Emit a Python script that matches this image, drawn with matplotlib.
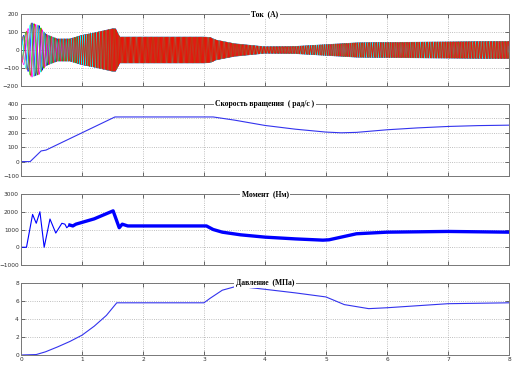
import matplotlib
matplotlib.use("Agg")
import matplotlib.pyplot as plt
import numpy as np

# current envelope (A) and carrier frequency (Hz)
cur_env_t = [0, 0.1, 0.17, 0.3, 0.4, 0.5, 0.6, 0.8, 1.0, 1.2, 1.5, 1.55, 1.62, 2.0, 3.0, 3.1, 3.2, 3.5, 4.0, 4.5, 5.0, 5.5, 6.0, 7.0, 8.0]
cur_env_a = [60, 110, 152, 135, 90, 75, 62, 62, 82, 95, 118, 118, 72, 72, 72, 70, 55, 35, 18, 20, 30, 40, 42, 45, 48]
cur_freq_t = [0, 0.3, 0.6, 1.0, 1.55, 3.1, 5.0, 8.0]
cur_freq_f = [6, 9, 18, 30, 50, 50, 33, 40]

# rotor speed (rad/s)
speed_t = [0, 0.15, 0.33, 0.41, 1.54, 3.15, 3.5, 4.0, 4.5, 5.0, 5.25, 5.5, 6.0, 6.5, 7.0, 7.5, 8.0]
speed_v = [0, 0, 74, 80, 310, 310, 288, 251, 225, 205, 200, 203, 221, 234, 244, 250, 253]

# torque (Nm)
torque_t = [0, 0.09, 0.19, 0.25, 0.31, 0.38, 0.475, 0.57, 0.67, 0.72, 0.75, 0.8, 0.85, 0.9, 1.2, 1.51, 1.61, 1.66, 1.75, 2.5, 3.04, 3.15, 3.3, 3.6, 4.0, 4.5, 4.95, 5.05, 5.5, 6.0, 7.0, 8.0]
torque_v = [0, 0, 1850, 1350, 2000, 0, 1590, 800, 1350, 1300, 1100, 1250, 1200, 1300, 1600, 2050, 1100, 1300, 1200, 1200, 1200, 1000, 850, 700, 570, 470, 400, 420, 760, 850, 890, 850]

# pressure (MPa)
press_t = [0, 0.25, 0.4, 0.6, 0.8, 1.0, 1.2, 1.4, 1.57, 3.0, 3.1, 3.3, 3.54, 4.0, 4.5, 5.0, 5.3, 5.7, 6.0, 7.0, 8.0]
press_v = [0, 0.05, 0.35, 0.9, 1.5, 2.2, 3.2, 4.4, 5.8, 5.8, 6.3, 7.2, 7.65, 7.3, 6.9, 6.45, 5.6, 5.15, 5.25, 5.7, 5.8]

titles = ["Ток  (А)", "Скорость вращения  ( рад/с )", "Момент  (Нм)", "Давление  (МПа)"]
ylims = [(-200, 200), (-100, 400), (-1000, 3000), (0, 8)]
yticks = [[-200, -100, 0, 100, 200], range(-100, 401, 100), range(-1000, 3001, 1000), [0, 2, 4, 6, 8]]

fig = plt.figure(figsize=(5.27, 3.75), dpi=100)
W, H = 527.0, 375.0
boxes = [(14, 86), (104, 176), (194, 265), (283, 355)]
axes = []
for top, bot in boxes:
    ax = fig.add_axes([21 / W, 1 - bot / H, 488 / W, (bot - top) / H])
    axes.append(ax)

# three-phase currents built on the traced envelope
t = np.linspace(0, 8, 40000)
env = np.interp(t, cur_env_t, cur_env_a)
freq = np.interp(t, cur_freq_t, cur_freq_f)
phase = 2 * np.pi * np.cumsum(freq) * (t[1] - t[0])
ax = axes[0]
for k, c in enumerate(["blue", "#00dd00", "magenta", "cyan"]):
    ax.plot(t, env * np.sin(phase - k * np.pi / 2), color=c, lw=0.5)
ax.plot(t, env * np.sin(1.03 * phase + np.pi / 6), color="#86681c", lw=0.35)
ax.plot(t, env * np.sin(phase - 2 * np.pi / 3), color="red", lw=0.3)

axes[1].plot(speed_t, speed_v, color="#3333ee", lw=0.8)

tq_t = np.array(torque_t)
tq_v = np.array(torque_v)
thin = tq_t <= 0.8
axes[2].plot(tq_t[thin], tq_v[thin], color="blue", lw=0.8)
axes[2].plot(tq_t[tq_t >= 0.8], tq_v[tq_t >= 0.8], color="blue", lw=2.4, solid_joinstyle="round")

axes[3].plot(press_t, press_v, color="#3333ee", lw=0.8)

for i, ax in enumerate(axes):
    ax.set_xlim(0, 8)
    ax.set_ylim(*ylims[i])
    ax.set_yticks(list(yticks[i]))
    ax.set_xticks(range(0, 9))
    ax.grid(True, color="#aaaaaa", linestyle=":", linewidth=0.6)
    ax.tick_params(direction="in", length=3, width=0.5, labelsize=4.2, pad=1.5,
                   top=True, right=True, colors="#333333")
    for s in ax.spines.values():
        s.set_color("#777777")
        s.set_linewidth(0.7)
    if i < 3:
        ax.set_xticklabels([])
    ax.text(0.5, 1.0, titles[i], transform=ax.transAxes, ha="center", va="center",
            fontsize=5.5, fontweight="bold", family="Liberation Serif",
            bbox=dict(facecolor="white", edgecolor="none", pad=1.0), zorder=10)

fig.savefig("out.png", dpi=100)
